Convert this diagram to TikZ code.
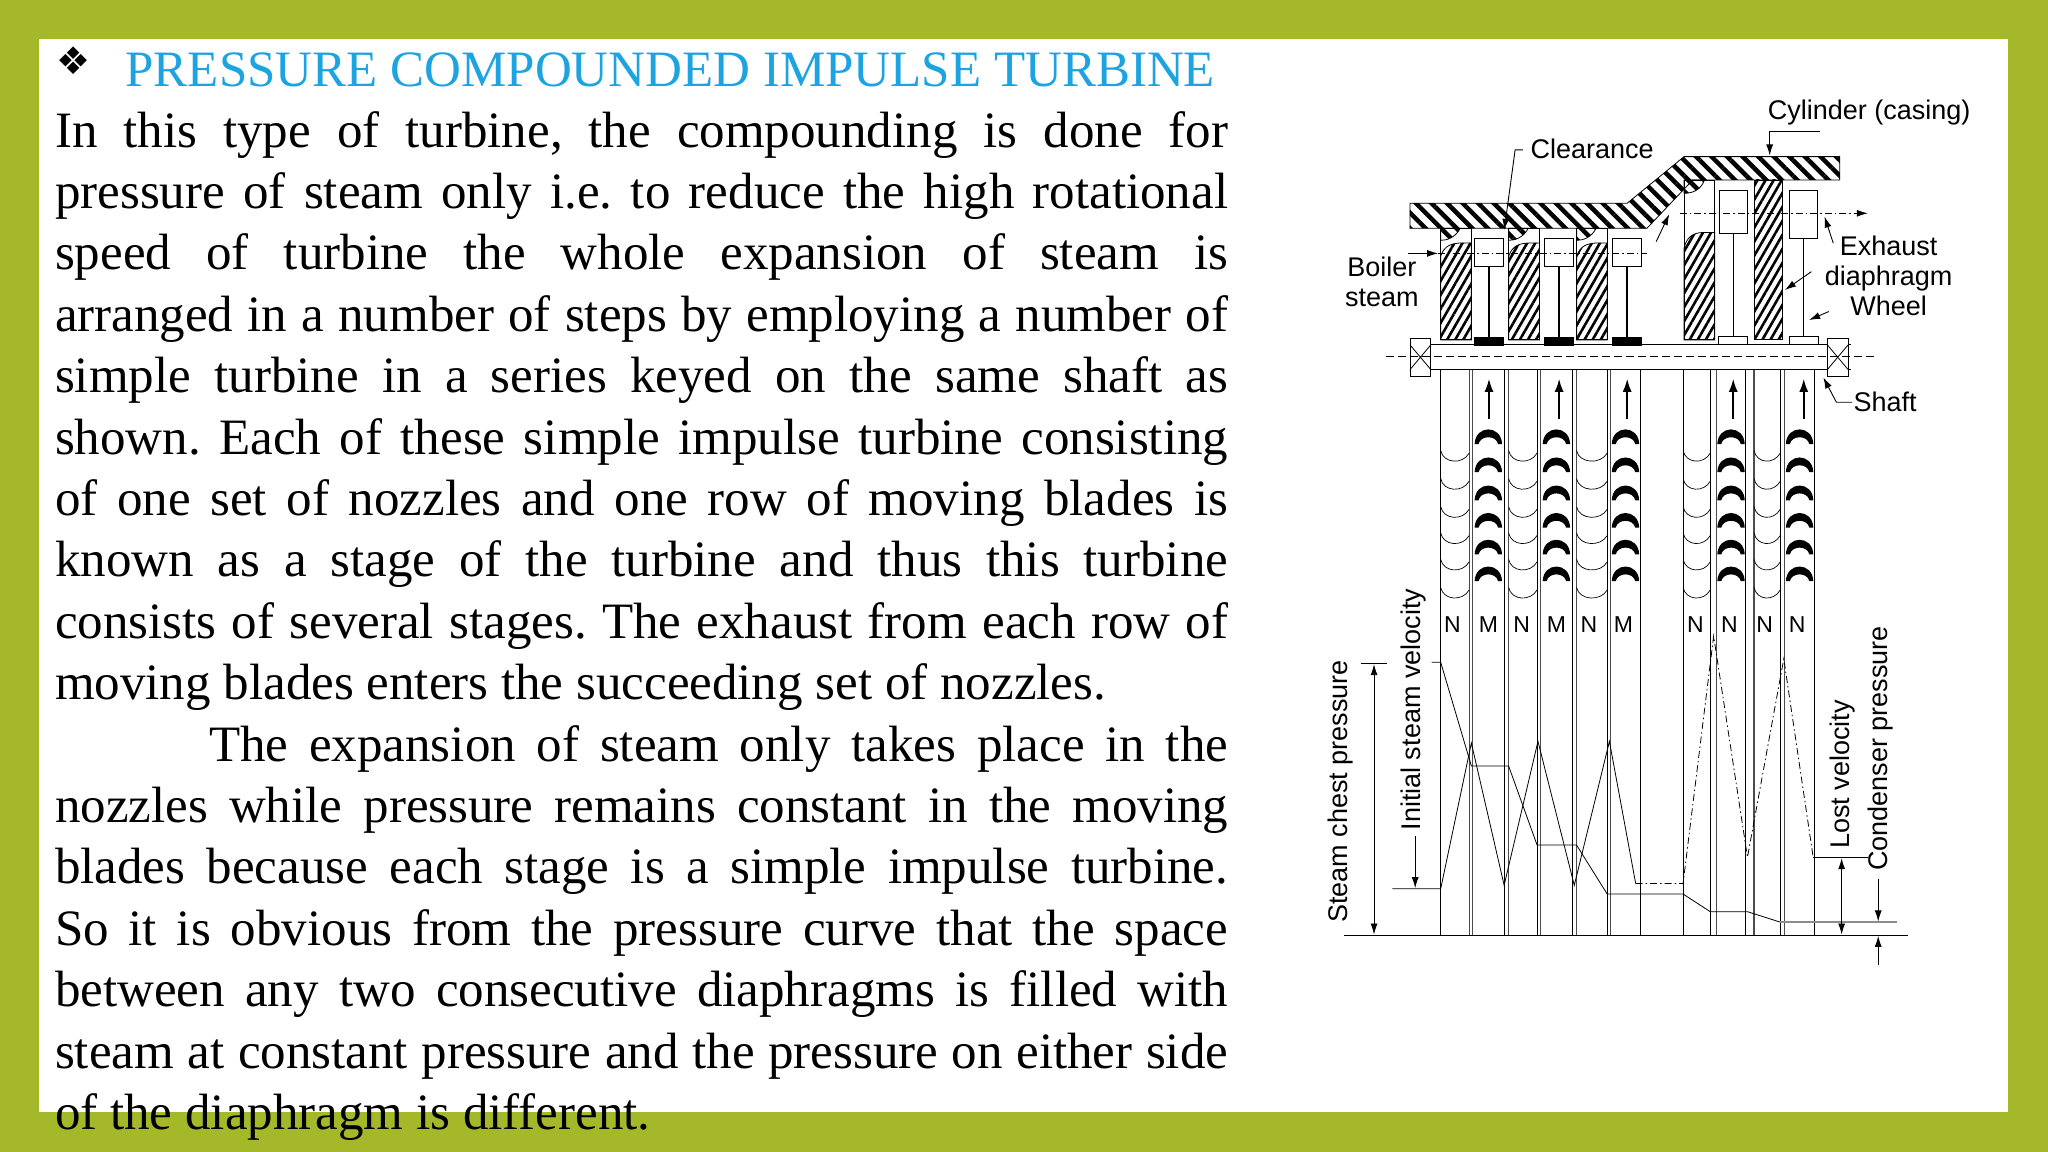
\documentclass[tikz,border=0pt]{standalone}
\usepackage{fontspec}
\setmainfont{Liberation Serif}
\newfontfamily\lsans{Liberation Sans}
\newfontfamily\djv{DejaVu Sans}
\usetikzlibrary{arrows.meta,patterns.meta}
\definecolor{bggreen}{HTML}{A4B82A}
\definecolor{titleblue}{HTML}{1CA3E0}
\begin{document}
\begin{tikzpicture}[x=1.306pt,y=-1.306pt,
  thinl/.style={line width=0.8pt},
  casing/.style={draw,line width=0.8pt,pattern={Lines[angle=-45,distance=11pt,line width=4.5pt]}},
  diaph/.style={draw,line width=0.8pt,pattern={Lines[angle=60,distance=7pt,line width=2.6pt]}},
  lbl/.style={font=\lsans\fontsize{27}{30}\selectfont,inner sep=0pt},
  nm/.style={font=\lsans\fontsize{23}{25}\selectfont,inner sep=0pt},
  ddot/.style={line width=0.8pt,dash pattern=on 7pt off 3pt on 1.5pt off 3pt},
  arr/.style={line width=0.9pt,-{Latex[length=11pt,width=7pt]}},
  uparr/.style={line width=1.8pt,-{Latex[length=13pt,width=9pt]}},
  darr/.style={line width=0.9pt,{Latex[length=11pt,width=7pt]}-{Latex[length=11pt,width=7pt]}},
  grayl/.style={line width=1.6pt,black!45}]
\useasboundingbox (0,0) rectangle (1568,882);
\fill[bggreen] (0,0) rectangle (1568,882);
\fill[white] (30,30) rectangle (1537,851);
% title
\node[anchor=base west,inner sep=0,font=\djv\fontsize{38}{38}\selectfont] (bul) at (43,57) {❖};
\node[anchor=base west,inner sep=0,text=titleblue,font=\fontsize{51}{51}\selectfont] (title) at (96,66) {PRESSURE COMPOUNDED IMPULSE TURBINE};
% body
\node[anchor=north west,inner sep=0,text width=1173pt,align=justify,font=\fontsize{51}{61.4}\selectfont] (body) at (42,79.5) {\frenchspacing\strut In this type of turbine, the compounding is done for\linebreak
pressure of steam only i.e.\ to reduce the high rotational\linebreak
speed of turbine the whole expansion of steam is\linebreak
arranged in a number of steps by employing a number of\linebreak
simple turbine in a series keyed on the same shaft as\linebreak
shown. Each of these simple impulse turbine consisting\linebreak
of one set of nozzles and one row of moving blades is\linebreak
known as a stage of the turbine and thus this turbine\linebreak
consists of several stages. The exhaust from each row of\linebreak
moving blades enters the succeeding set of nozzles.\par
\hspace*{154pt}The expansion of steam only takes place in the\linebreak
nozzles while pressure remains constant in the moving\linebreak
blades because each stage is a simple impulse turbine.\linebreak
So it is obvious from the pressure curve that the space\linebreak
between any two consecutive diaphragms is filled with\linebreak
steam at constant pressure and the pressure on either side\linebreak
of the diaphragm is different.};
% ===== diagram =====
% casing
\path[casing] (1079.5,155.6)--(1245.8,155.6)--(1289.4,119.9)--(1408.6,119.9)--(1408.6,137.8)--(1296,137.8)--(1260.9,174.8)--(1079.5,174.8)--cycle;
% left diaphragms
\foreach \a/\b in {1103/1126.5,1155.1/1178.6,1207.1/1230.6}{
  \draw[thinl] (\a,174.8) rectangle (\b,260.2);
  \path[diaph] (\a,196) .. controls (\a+3,188) and (\a+8,186) .. (\b-6,186) -- (\b,186) -- (\b,260.2) -- (\a,260.2) -- cycle;
  \path[casing] (\a,174.8) -- (\a+15,174.8) .. controls (\a+11,182) and (\a+5,184) .. (\a,184) -- cycle;
}
% right diaphragms
\draw[thinl] (1289.4,137.8) rectangle (1312.9,260.2);
\path[diaph] (1289.4,190) .. controls (1291,182) and (1296,178) .. (1304,178) -- (1312.9,178) -- (1312.9,260.2) -- (1289.4,260.2) -- cycle;
\path[casing] (1289.4,137.8) -- (1305,137.8) .. controls (1302,146) and (1295,148) .. (1289.4,148) -- cycle;
\path[diaph] (1343.1,137.8) rectangle (1365,260.2);
% left wheels
\foreach \c in {1140,1193.7,1245.8}{
  \draw[thinl,fill=white] (\c-11,182.4) rectangle (\c+11,204.1);
  \draw[line width=1.4pt] (\c,204.1) -- (\c,257.7);
  \fill (\c-11.5,257.7) rectangle (\c+11.5,265);
}
% right wheels
\draw[thinl,fill=white] (1316.3,145.4) rectangle (1338.1,178.6);
\draw[thinl,fill=white] (1370,145.4) rectangle (1391.8,182.4);
\foreach \c/\t in {1327/178.6,1381/182.4}{
  \draw[line width=1.4pt] (\c,\t) -- (\c,257.7);
  \draw[thinl,fill=white] (\c-11,257.7) rectangle (\c+11,264);
}
% shaft and bearings
\draw[thinl] (1079.5,264) -- (1417,264) (1079.5,283) -- (1417,283);
\foreach \a in {1079.5,1399}{
  \draw[thinl,fill=white] (\a,259) rectangle (\a+16,288);
  \draw[thinl] (\a,264) -- (\a+16,283) (\a,283) -- (\a+16,264);
}
\coordinate (cl1) at (1061,273); \coordinate (cl2) at (1435,273);
\draw[thinl,dashed,dash pattern=on 8pt off 4pt] (cl1) -- (cl2);
% dash-dot flow lines
\coordinate (bs1) at (1078,194); \coordinate (bs2) at (1101,194);
\draw[arr] (bs1) -- (bs2);
\draw[ddot] (bs2) -- (1261,194);
\coordinate (ex1) at (1286,163.3); \coordinate (ex2) at (1430,163.3);
\draw[ddot,-{Latex[length=11pt,width=7pt]}] (ex1) -- (ex2);
% vertical lines
\foreach \x in {1103,1151.6,1176.8,1203.7,1230.5,1255.7,1288.6,1309.4,1336.2,1363,1389.2}{
  \draw[thinl] (\x,283) -- (\x,716);}
\foreach \x in {1124.8,1127.5,1155,1179.5,1207,1233.2,1314.4,1342.9,1366.4}{
  \draw[line width=1.1pt,black!70] (\x,283) -- (\x,716);}
% up arrows
\foreach \c in {1140,1193.7,1245.8,1327,1381}{
  \draw[uparr] (\c,321) -- (\c,290);}
% moving blades
\foreach \c in {1139.5,1191.6,1244.5,1325.3,1377.8}{
  \foreach \y in {333,354.5,376,397,417.5,438}{
    \fill (\c-10.5,\y+7) .. controls (\c-10,\y-8) and (\c+10,\y-8) .. (\c+10.5,\y+7)
      -- (\c+7.5,\y+7) .. controls (\c+6,\y) and (\c-6,\y) .. (\c-7.5,\y+7) -- cycle;
  }}
% nozzle arcs
\foreach \a/\b in {1103/1124.8,1155/1176.8,1207/1230.5,1288.6/1309.4,1342.9/1363}{
  \foreach \y in {353.9,375.4,396.9,417,437.2,458.7}{
    \draw[line width=0.7pt] (\a,\y-9) .. controls (\a+2,\y+1) and (\b-5,\y+2) .. (\b,\y-7);
  }}
% N/M labels
\foreach \x/\t in {1112/N,1139.5/M,1165/N,1191.6/M,1216.5/N,1243/M,1298/N,1324/N,1351/N,1376/N}{
  \node[nm] (l\x) at (\x,478) {\t};}
% baseline
\coordinate (bl1) at (1029,716); \coordinate (bl2) at (1461,716);
\draw[line width=1.2pt] (bl1) -- (bl2);
% velocity curve
\draw[thinl] (1066,680.5) -- (1103,680.5) -- (1126.5,568.9) -- (1151.6,677.8) -- (1177.5,567.6) -- (1205.3,677.8) -- (1232.2,567.6) -- (1252.3,676.4);
\draw[ddot] (1252.3,676.4) -- (1288.6,676.4) -- (1312,487) -- (1337.9,656.3) -- (1365.7,504.4) -- (1388.2,656.3);
\draw[thinl] (1388.2,656.3) -- (1430,656.3);
% pressure curve
\draw[thinl] (1096,507) -- (1103,507) -- (1126.5,586.4) -- (1155,586.4) -- (1176.8,646.9) -- (1207,646.9) -- (1230.5,684.5) -- (1288.6,684.5) -- (1309.4,698) -- (1337.9,698) -- (1363,706);
\draw[grayl] (1363,706) -- (1452,706);
% steam chest pressure
\draw[thinl] (1042,508) -- (1062,508);
\coordinate (sc1) at (1052,508.5); \coordinate (sc2) at (1052,715.5);
\draw[darr] (sc1) -- (sc2);
\node[lbl,rotate=90] (scp) at (1026,606) {Steam chest pressure};
% initial steam velocity
\coordinate (iv1) at (1083.5,640); \coordinate (iv2) at (1083.5,680);
\draw[arr] (iv1) -- (iv2);
\node[lbl,rotate=90,anchor=west] (isv) at (1082,636) {Initial steam velocity};
% lost velocity
\coordinate (lv1) at (1410,657); \coordinate (lv2) at (1410,715.5);
\draw[darr] (lv1) -- (lv2);
\node[lbl,rotate=90] (lvl) at (1411,593) {Lost velocity};
% condenser pressure
\coordinate (cp1) at (1438,673); \coordinate (cp2) at (1438,705.5);
\draw[arr] (cp1) -- (cp2);
\coordinate (cp3) at (1438,739); \coordinate (cp4) at (1438,716.5);
\draw[arr] (cp3) -- (cp4);
\node[lbl,rotate=90] (cpl) at (1440,573) {Condenser pressure};
% labels top
\node[lbl] (cyl) at (1431,86) {Cylinder (casing)};
\draw[arr] (1393.5,100.8) -- (1354.9,100.8) -- (1354.9,119);
\node[lbl] (clr) at (1219,114) {Clearance};
\draw[arr] (1166,114.8) -- (1160,114.8) -- (1151.7,176);
\draw[arr] (1268,185) -- (1278,164);
\node[lbl,align=center] (boil) at (1058,216) {Boiler\\steam};
\node[lbl,align=center] (exh) at (1446,211) {Exhaust\\diaphragm\\Wheel};
\draw[arr] (1403.6,186.2) -- (1396.9,165.8);
\draw[arr] (1386.8,208) -- (1366.6,222);
\draw[arr] (1400.2,238.5) -- (1385.1,245);
\node[lbl,anchor=west] (sh) at (1419,308) {Shaft};
\draw[arr] (1418,308) -- (1406,308) -- (1396,289);
\end{tikzpicture}
\end{document}
